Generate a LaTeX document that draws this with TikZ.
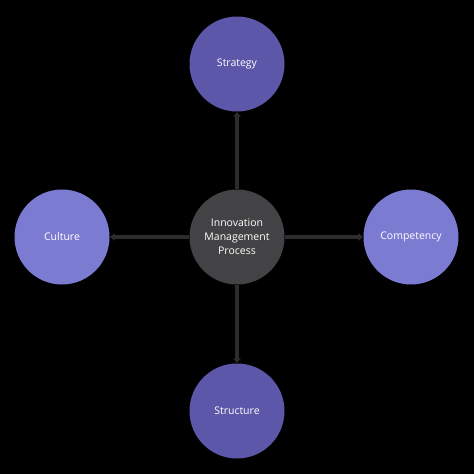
\documentclass[tikz,border=0pt]{standalone}
\usepackage{fontspec}
\setmainfont{Open Sans}
\usetikzlibrary{arrows.meta}
\definecolor{bgblack}{HTML}{000000}
\definecolor{hubgray}{HTML}{434345}
\definecolor{darkpurple}{HTML}{5D57A9}
\definecolor{lightpurple}{HTML}{7C7BD2}
\definecolor{linkgray}{HTML}{2C2C2C}

\begin{document}
\begin{tikzpicture}[x=1pt, y=-1pt,
        hub/.style={circle, fill=hubgray, minimum size=95pt, inner sep=0pt, text=white, align=center, font=\fontsize{10.5}{14}\selectfont},
        pillar/.style={circle, minimum size=95pt, inner sep=0pt, text=white, font=\fontsize{10.5}{14}\selectfont},
        link/.style={draw=linkgray, line width=4pt, -{Latex[length=5pt,width=9pt]}}]
        % background
        \fill[bgblack] (0,0) rectangle (474,474);
        \useasboundingbox (0,0) rectangle (474,474);

        % circles
        \node[hub] (process) at (237,237) {Innovation\\Management\\Process};
        \node[pillar, fill=darkpurple] (strategy) at (237,64) {Strategy};
        \node[pillar, fill=lightpurple] (culture) at (62,237) {Culture};
        \node[pillar, fill=lightpurple] (competency) at (411,237) {Competency};
        \node[pillar, fill=darkpurple] (structure) at (237,411) {Structure};

        % links
        \draw[link] (process) -- (strategy);
        \draw[link] (process) -- (culture);
        \draw[link] (process) -- (competency);
        \draw[link] (process) -- (structure);
    \end{tikzpicture}
\end{document}
